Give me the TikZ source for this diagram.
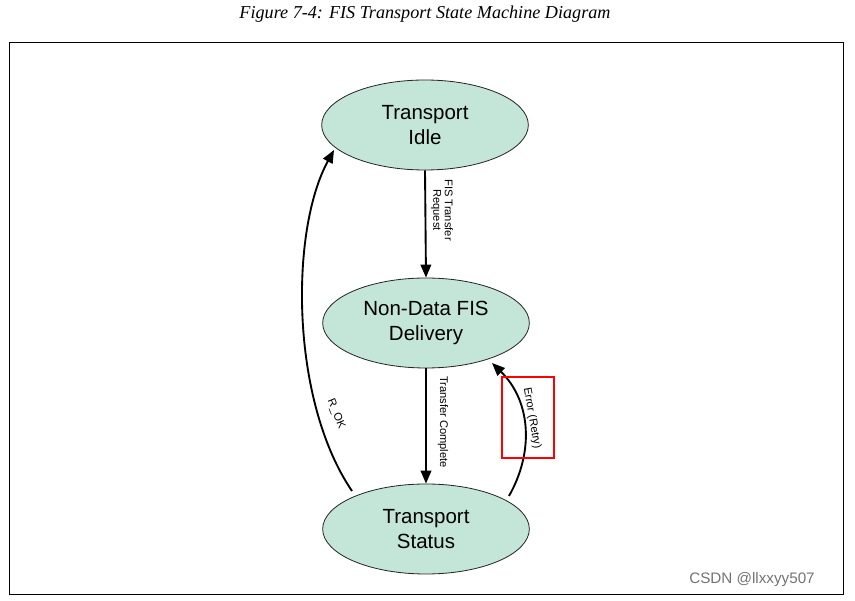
\documentclass[tikz,border=0pt]{standalone}
\usepackage{fontspec}
\setmainfont{Liberation Sans}
\newfontfamily\titlefont{Liberation Serif}
\usetikzlibrary{arrows.meta,shapes.geometric}
\begin{document}
\begin{tikzpicture}[x=0.03cm,y=-0.03cm,
  state/.style={ellipse,draw=black!85,line width=0.7pt,fill={rgb,255:red,196;green,230;blue,216},minimum width=6.2cm,minimum height=2.7cm,align=center,font=\fontsize{17.5}{21}\selectfont,inner sep=0pt},
  trans/.style={-{Triangle[width=9pt,length=11pt]},line width=1.6pt},
  lbl/.style={font=\fontsize{9.5}{10}\selectfont,align=center}]
\useasboundingbox (0,0) rectangle (855,601);
\node (title) at (425,14) {\titlefont\itshape\fontsize{15.5}{18}\selectfont Figure 7-4: FIS Transport State Machine Diagram};
\draw[line width=0.7pt] (9,42) rectangle (843,594);
\node[state] (idle) at (425,125) {Transport\\Idle};
\node[state] (nd) at (426,323) {Non-Data FIS\\Delivery};
\node[state] (st) at (426,529) {Transport\\Status};
\draw[trans] (idle.south) -- (nd.north);
\node[lbl,rotate=-90] (l1) at (442,210) {FIS Transfer\\Request};
\draw[trans] (nd.south) -- (st.north);
\node[lbl,rotate=-90] (l2) at (443,422) {Transfer Complete};
\coordinate (a1) at (352,491);
\coordinate (a2) at (334,150);
\draw[trans] (a1) .. controls (290,400) and (290,230) .. (a2);
\node[lbl,rotate=-68] (l3) at (336,414) {R\_OK};
\coordinate (b1) at (509,496);
\coordinate (b2) at (492,363);
\draw[trans] (b1) .. controls (535,450) and (530,400) .. (b2);
\node[lbl,rotate=-80] (l4) at (532,418) {Error (Retry)};
\draw[red,line width=1pt] (502,377) rectangle (554,458);
\node[text=black!55,font=\fontsize{13}{15}\selectfont] (wm) at (752,580) {CSDN @llxxyy507};
\end{tikzpicture}
\end{document}
